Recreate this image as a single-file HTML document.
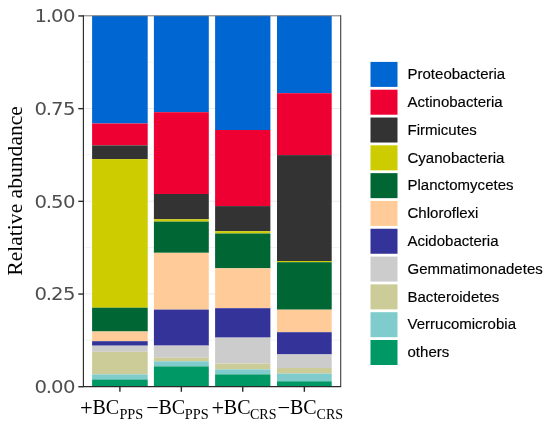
<!DOCTYPE html>
<html><head><meta charset="utf-8"><title>Relative abundance</title>
<style>html,body{margin:0;padding:0;background:#fff}svg{display:block}</style></head>
<body>
<svg width="550" height="428" viewBox="0 0 550 428">
<rect width="550" height="428" fill="#fff"/>
<line x1="83.4" x2="340.7" y1="340.25" y2="340.25" stroke="#ebebeb" stroke-width="0.6"/>
<line x1="83.4" x2="340.7" y1="293.90" y2="293.90" stroke="#ebebeb" stroke-width="1"/>
<line x1="83.4" x2="340.7" y1="247.55" y2="247.55" stroke="#ebebeb" stroke-width="0.6"/>
<line x1="83.4" x2="340.7" y1="201.20" y2="201.20" stroke="#ebebeb" stroke-width="1"/>
<line x1="83.4" x2="340.7" y1="154.85" y2="154.85" stroke="#ebebeb" stroke-width="0.6"/>
<line x1="83.4" x2="340.7" y1="108.50" y2="108.50" stroke="#ebebeb" stroke-width="1"/>
<line x1="83.4" x2="340.7" y1="62.15" y2="62.15" stroke="#ebebeb" stroke-width="0.6"/>
<rect x="92.1" y="15.80" width="55.60" height="107.70" fill="#0066D2"/>
<rect x="92.1" y="123.50" width="55.60" height="21.90" fill="#EE0033"/>
<rect x="92.1" y="145.40" width="55.60" height="13.70" fill="#333333"/>
<rect x="92.1" y="159.10" width="55.60" height="148.60" fill="#CCCC00"/>
<rect x="92.1" y="307.70" width="55.60" height="23.80" fill="#006633"/>
<rect x="92.1" y="331.50" width="55.60" height="9.70" fill="#FFCC99"/>
<rect x="92.1" y="341.20" width="55.60" height="4.50" fill="#333399"/>
<rect x="92.1" y="345.70" width="55.60" height="6.10" fill="#CCCCCC"/>
<rect x="92.1" y="351.80" width="55.60" height="22.60" fill="#CCCC99"/>
<rect x="92.1" y="374.40" width="55.60" height="5.10" fill="#80CCCC"/>
<rect x="92.1" y="379.50" width="55.60" height="7.10" fill="#009966"/>
<rect x="153.9" y="15.80" width="54.90" height="96.40" fill="#0066D2"/>
<rect x="153.9" y="112.20" width="54.90" height="81.80" fill="#EE0033"/>
<rect x="153.9" y="194.00" width="54.90" height="25.30" fill="#333333"/>
<rect x="153.9" y="219.30" width="54.90" height="2.30" fill="#CCCC00"/>
<rect x="153.9" y="221.60" width="54.90" height="31.20" fill="#006633"/>
<rect x="153.9" y="252.80" width="54.90" height="56.80" fill="#FFCC99"/>
<rect x="153.9" y="309.60" width="54.90" height="36.00" fill="#333399"/>
<rect x="153.9" y="345.60" width="54.90" height="12.20" fill="#CCCCCC"/>
<rect x="153.9" y="357.80" width="54.90" height="3.50" fill="#CCCC99"/>
<rect x="153.9" y="361.30" width="54.90" height="5.10" fill="#80CCCC"/>
<rect x="153.9" y="366.40" width="54.90" height="20.20" fill="#009966"/>
<rect x="215.1" y="15.80" width="55.30" height="114.20" fill="#0066D2"/>
<rect x="215.1" y="130.00" width="55.30" height="76.10" fill="#EE0033"/>
<rect x="215.1" y="206.10" width="55.30" height="25.10" fill="#333333"/>
<rect x="215.1" y="231.20" width="55.30" height="2.30" fill="#CCCC00"/>
<rect x="215.1" y="233.50" width="55.30" height="34.80" fill="#006633"/>
<rect x="215.1" y="268.30" width="55.30" height="39.90" fill="#FFCC99"/>
<rect x="215.1" y="308.20" width="55.30" height="29.40" fill="#333399"/>
<rect x="215.1" y="337.60" width="55.30" height="26.00" fill="#CCCCCC"/>
<rect x="215.1" y="363.60" width="55.30" height="5.80" fill="#CCCC99"/>
<rect x="215.1" y="369.40" width="55.30" height="5.00" fill="#80CCCC"/>
<rect x="215.1" y="374.40" width="55.30" height="12.20" fill="#009966"/>
<rect x="277.0" y="15.80" width="54.70" height="77.40" fill="#0066D2"/>
<rect x="277.0" y="93.20" width="54.70" height="61.90" fill="#EE0033"/>
<rect x="277.0" y="155.10" width="54.70" height="105.90" fill="#333333"/>
<rect x="277.0" y="261.00" width="54.70" height="1.20" fill="#CCCC00"/>
<rect x="277.0" y="262.20" width="54.70" height="47.50" fill="#006633"/>
<rect x="277.0" y="309.70" width="54.70" height="22.50" fill="#FFCC99"/>
<rect x="277.0" y="332.20" width="54.70" height="22.20" fill="#333399"/>
<rect x="277.0" y="354.40" width="54.70" height="13.60" fill="#CCCCCC"/>
<rect x="277.0" y="368.00" width="54.70" height="5.60" fill="#CCCC99"/>
<rect x="277.0" y="373.60" width="54.70" height="7.70" fill="#80CCCC"/>
<rect x="277.0" y="381.30" width="54.70" height="5.30" fill="#009966"/>
<path d="M83.4 15.8H340.7" fill="none" stroke="#707070" stroke-width="0.95"/>
<path d="M340.7 15.35V386.6" fill="none" stroke="#3c3c3c" stroke-width="1.1"/>
<path d="M83.4 15.30V386.6H341.20" fill="none" stroke="#2a2a2a" stroke-width="1.15"/>
<line x1="78.30000000000001" x2="83.4" y1="386.75" y2="386.75" stroke="#2a2a2a" stroke-width="1.4"/>
<text transform="translate(0,392.90) scale(1.1,1)" x="31.36 41.55 46.45 57.27" font-family="'DejaVu Sans', sans-serif" font-size="17.9" fill="#4d4d4d">0.00</text>
<line x1="78.30000000000001" x2="83.4" y1="294.05" y2="294.05" stroke="#2a2a2a" stroke-width="1.4"/>
<text transform="translate(0,300.20) scale(1.1,1)" x="31.36 41.55 46.45 57.27" font-family="'DejaVu Sans', sans-serif" font-size="17.9" fill="#4d4d4d">0.25</text>
<line x1="78.30000000000001" x2="83.4" y1="201.35" y2="201.35" stroke="#2a2a2a" stroke-width="1.4"/>
<text transform="translate(0,207.50) scale(1.1,1)" x="31.36 41.55 46.45 57.27" font-family="'DejaVu Sans', sans-serif" font-size="17.9" fill="#4d4d4d">0.50</text>
<line x1="78.30000000000001" x2="83.4" y1="108.65" y2="108.65" stroke="#2a2a2a" stroke-width="1.4"/>
<text transform="translate(0,114.80) scale(1.1,1)" x="31.36 41.55 46.45 57.27" font-family="'DejaVu Sans', sans-serif" font-size="17.9" fill="#4d4d4d">0.75</text>
<line x1="78.30000000000001" x2="83.4" y1="15.95" y2="15.95" stroke="#2a2a2a" stroke-width="1.4"/>
<text transform="translate(0,22.10) scale(1.1,1)" x="31.36 41.55 46.45 57.27" font-family="'DejaVu Sans', sans-serif" font-size="17.9" fill="#4d4d4d">1.00</text>
<line x1="119.90" x2="119.90" y1="386.6" y2="391.8" stroke="#2a2a2a" stroke-width="1.4"/>
<text y="414" font-family="'Liberation Serif', serif" font-size="20" fill="#000"><tspan x="79.9" font-size="22.5" dy="0.6">+</tspan><tspan x="92.4" dy="-0.6">BC</tspan><tspan x="119.4" dy="4.5" font-size="14.3">PPS</tspan></text>
<line x1="181.35" x2="181.35" y1="386.6" y2="391.8" stroke="#2a2a2a" stroke-width="1.4"/>
<text y="414" font-family="'Liberation Serif', serif" font-size="20" fill="#000"><tspan x="146.2" font-size="22.5" dy="0.6">−</tspan><tspan x="158.5" dy="-0.6">BC</tspan><tspan x="184.8" dy="4.5" font-size="14.3">PPS</tspan></text>
<line x1="242.75" x2="242.75" y1="386.6" y2="391.8" stroke="#2a2a2a" stroke-width="1.4"/>
<text y="414" font-family="'Liberation Serif', serif" font-size="20" fill="#000"><tspan x="211.5" font-size="22.5" dy="0.6">+</tspan><tspan x="223.8" dy="-0.6">BC</tspan><tspan x="250.0" dy="4.5" font-size="14">CRS</tspan></text>
<line x1="304.35" x2="304.35" y1="386.6" y2="391.8" stroke="#2a2a2a" stroke-width="1.4"/>
<text y="414" font-family="'Liberation Serif', serif" font-size="20" fill="#000"><tspan x="277.4" font-size="22.5" dy="0.6">−</tspan><tspan x="289.9" dy="-0.6">BC</tspan><tspan x="316.6" dy="4.5" font-size="14">CRS</tspan></text>
<text transform="translate(22.2,190.9) rotate(-90) scale(1.054,1)" text-anchor="middle" font-family="'Liberation Serif', serif" font-size="20.5" fill="#000">Relative abundance</text>
<rect x="370.5" y="61.90" width="27" height="25" fill="#0066D2"/>
<text transform="translate(407.5,79.15) scale(1.022,1)" font-family="'Liberation Sans', sans-serif" font-size="14.7" fill="#000" stroke="#000" stroke-width="0.15">Proteobacteria</text>
<rect x="370.5" y="89.71" width="27" height="25" fill="#EE0033"/>
<text transform="translate(407.5,106.96) scale(1.022,1)" font-family="'Liberation Sans', sans-serif" font-size="14.7" fill="#000" stroke="#000" stroke-width="0.15">Actinobacteria</text>
<rect x="370.5" y="117.52" width="27" height="25" fill="#333333"/>
<text transform="translate(407.5,134.77) scale(1.022,1)" font-family="'Liberation Sans', sans-serif" font-size="14.7" fill="#000" stroke="#000" stroke-width="0.15">Firmicutes</text>
<rect x="370.5" y="145.33" width="27" height="25" fill="#CCCC00"/>
<text transform="translate(407.5,162.58) scale(1.022,1)" font-family="'Liberation Sans', sans-serif" font-size="14.7" fill="#000" stroke="#000" stroke-width="0.15">Cyanobacteria</text>
<rect x="370.5" y="173.14" width="27" height="25" fill="#006633"/>
<text transform="translate(407.5,190.39) scale(1.022,1)" font-family="'Liberation Sans', sans-serif" font-size="14.7" fill="#000" stroke="#000" stroke-width="0.15">Planctomycetes</text>
<rect x="370.5" y="200.95" width="27" height="25" fill="#FFCC99"/>
<text transform="translate(407.5,218.20) scale(1.022,1)" font-family="'Liberation Sans', sans-serif" font-size="14.7" fill="#000" stroke="#000" stroke-width="0.15">Chloroflexi</text>
<rect x="370.5" y="228.76" width="27" height="25" fill="#333399"/>
<text transform="translate(407.5,246.01) scale(1.022,1)" font-family="'Liberation Sans', sans-serif" font-size="14.7" fill="#000" stroke="#000" stroke-width="0.15">Acidobacteria</text>
<rect x="370.5" y="256.57" width="27" height="25" fill="#CCCCCC"/>
<text transform="translate(407.5,273.82) scale(1.022,1)" font-family="'Liberation Sans', sans-serif" font-size="14.7" fill="#000" stroke="#000" stroke-width="0.15">Gemmatimonadetes</text>
<rect x="370.5" y="284.38" width="27" height="25" fill="#CCCC99"/>
<text transform="translate(407.5,301.63) scale(1.022,1)" font-family="'Liberation Sans', sans-serif" font-size="14.7" fill="#000" stroke="#000" stroke-width="0.15">Bacteroidetes</text>
<rect x="370.5" y="312.19" width="27" height="25" fill="#80CCCC"/>
<text transform="translate(407.5,329.44) scale(1.022,1)" font-family="'Liberation Sans', sans-serif" font-size="14.7" fill="#000" stroke="#000" stroke-width="0.15">Verrucomicrobia</text>
<rect x="370.5" y="340.00" width="27" height="25" fill="#009966"/>
<text transform="translate(407.5,357.25) scale(1.022,1)" font-family="'Liberation Sans', sans-serif" font-size="14.7" fill="#000" stroke="#000" stroke-width="0.15">others</text>
</svg>
</body></html>
